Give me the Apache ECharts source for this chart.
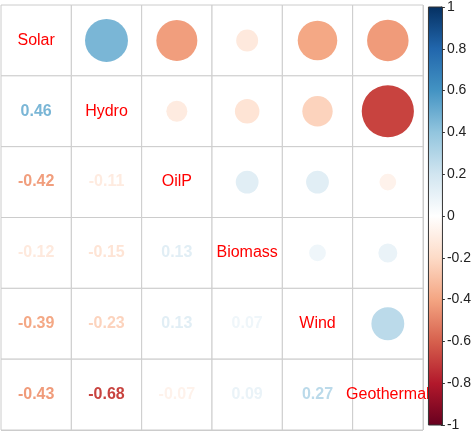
<!DOCTYPE html><html><head><meta charset="utf-8">
<script src="https://cdn.jsdelivr.net/npm/echarts@6/dist/echarts.min.js"></script>
<style>html,body{margin:0;background:#fff}#c{width:474px;height:433px}</style></head><body><div id="c"></div>
<script>
const names=['Solar','Hydro','OilP','Biomass','Wind','Geothermal'];
const hydroRow=[0.46];
const oilpRow=[-0.42,-0.11];
const biomassRow=[-0.12,-0.15,0.13];
const windRow=[-0.39,-0.23,0.13,0.07];
const geoRow=[-0.43,-0.68,-0.07,0.09,0.27];
const colorTicks=[-1,-0.8,-0.6,-0.4,-0.2,0,0.2,0.4,0.6,0.8,1];
const palette=['#67001F','#B2182B','#D6604D','#F4A582','#FDDBC7','#FFFFFF','#D1E5F0','#92C5DE','#4393C3','#2166AC','#053061'];
const lower=[[],hydroRow,oilpRow,biomassRow,windRow,geoRow];
const data=[];
for(let i=0;i<6;i++)for(let j=0;j<6;j++){
  if(i===j){data.push([j,i,0,'diag']);continue;}
  const v=i>j?lower[i][j]:lower[j][i];
  data.push([j,i,v,i>j?'num':'circ']);
}
const chart=echarts.init(document.getElementById('c'));
chart.setOption({
 animation:false,
 grid:[{left:1,right:51,top:5,bottom:3},{left:430,width:14,top:5,bottom:8}],
 xAxis:[{type:'category',data:names,gridIndex:0,axisLabel:{show:false},axisTick:{show:false},axisLine:{show:false},splitLine:{show:true,lineStyle:{color:'#cccccc'}}},
        {type:'category',data:[''],gridIndex:1,show:false}],
 yAxis:[{type:'category',data:names,inverse:true,gridIndex:0,axisLabel:{show:false},axisTick:{show:false},axisLine:{show:false},splitLine:{show:true,lineStyle:{color:'#cccccc'}}},
        {type:'value',gridIndex:1,min:-1,max:1,interval:0.2,position:'right',axisLine:{show:true,lineStyle:{color:'#333'}},axisTick:{show:true,length:4,lineStyle:{color:'#333'}},splitLine:{show:false},
         axisLabel:{fontFamily:'Liberation Sans',fontSize:14,color:'#222',margin:6,formatter:v=>String(Math.round(v*10)/10)}}],
 visualMap:{show:false,min:-1,max:1,dimension:2,seriesIndex:0,inRange:{color:palette}},
 series:[{type:'custom',xAxisIndex:0,yAxisIndex:0,data:data,encode:{x:0,y:1},clip:false,
   renderItem:(p,api)=>{
     const c=api.coord([api.value(0),api.value(1)]);const s=api.size([1,1]);
     const v=api.value(2);const kind=data[p.dataIndex][3];const col=api.visual('color');
     const box={type:'rect',shape:{x:c[0]-s[0]/2,y:c[1]-s[1]/2,width:s[0],height:s[1]},style:{fill:'#fff',stroke:'#cccccc',lineWidth:1}};
     if(kind==='diag')return{type:'group',children:[box,{type:'text',x:c[0],y:c[1],style:{text:names[api.value(1)],fill:'#ff0000',font:'16px "Liberation Sans"',align:'center',verticalAlign:'middle'}}]};
     if(kind==='num')return{type:'group',children:[box,{type:'text',x:c[0],y:c[1],style:{text:v.toFixed(2),fill:col,font:'bold 16px "Liberation Sans"',align:'center',verticalAlign:'middle'}}]};
     const r=Math.sqrt(Math.abs(v))*Math.min(s[0],s[1])*0.45;
     return{type:'group',children:[box,{type:'circle',shape:{cx:c[0],cy:c[1],r:r},style:{fill:col}}]};
   }},
  {type:'custom',xAxisIndex:1,yAxisIndex:1,data:[[0,0]],clip:false,
   renderItem:(p,api)=>{
     const top=api.coord([0,1]),bot=api.coord([0,-1]);
     const w=14;
     return{type:'rect',shape:{x:top[0]-w/2,y:top[1],width:w,height:bot[1]-top[1]},
      style:{fill:new echarts.graphic.LinearGradient(0,0,0,1,palette.slice().reverse().map((c,i)=>({offset:i/10,color:c}))),stroke:'#333',lineWidth:1}};
   }}]
});
</script></body></html>
